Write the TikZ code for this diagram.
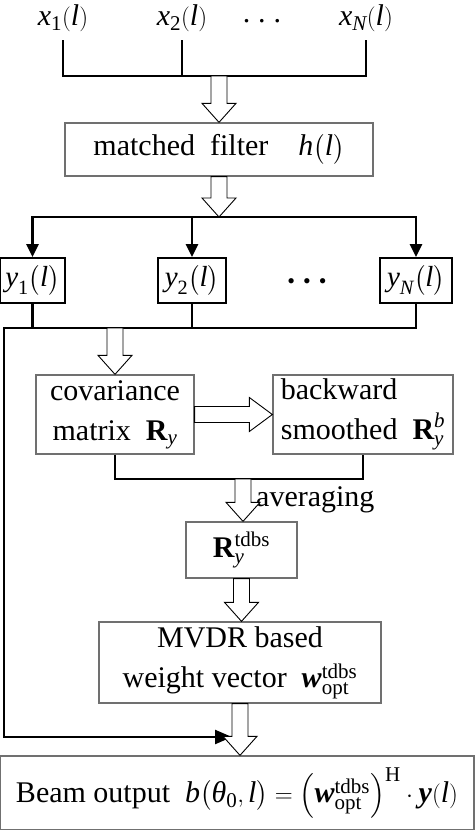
\documentclass[tikz,border=0pt]{standalone}
\usepackage{amsmath}
\usepackage[no-math]{fontspec}
\setmainfont{Liberation Serif}
\usepackage{tikz}
\usetikzlibrary{arrows.meta,positioning,calc}
\definecolor{boxgray}{HTML}{707070}
\newcommand{\mv}[1]{\textit{#1}}
\newcommand{\bv}[1]{\textbf{\textit{#1}}}
\tikzset{
  blockBox/.style={draw=boxgray, line width=1.3pt, inner sep=0pt, align=center, font=\fontsize{30}{40}\selectfont},
  yBox/.style={draw=black, line width=1.8pt, inner sep=0pt, minimum height=45pt, font=\fontsize{29}{36}\selectfont},
  sigLabel/.style={inner sep=0pt, minimum height=44pt, font=\fontsize{30}{36}\selectfont},
  linkLine/.style={line width=2.4pt, draw=black},
  smallTip/.style={-{Triangle[length=13pt,width=12pt]}},
  bigTip/.style={-{Triangle[length=17pt,width=14pt]}},
  fatArrow/.style={draw=black, fill=white, line width=0.9pt},
  fatDown/.style={fatArrow, to path={let \p1=(\tikztostart), \p2=(\tikztotarget) in
    (\x1-8pt,\y1) -- (\x1-8pt,\y2+19pt) -- (\x1-17pt,\y2+19pt) -- (\x1,\y2)
    -- (\x1+17pt,\y2+19pt) -- (\x1+8pt,\y2+19pt) -- (\x1+8pt,\y1) -- cycle}},
  fatRight/.style={fatArrow, to path={let \p1=(\tikztostart), \p2=(\tikztotarget) in
    (\x1,\y1+8pt) -- (\x2-23pt,\y1+8pt) -- (\x2-23pt,\y1+17pt) -- (\x2,\y1)
    -- (\x2-23pt,\y1-17pt) -- (\x2-23pt,\y1-8pt) -- (\x1,\y1-8pt) -- cycle}}
}

\begin{document}
\begin{tikzpicture}[x=1pt,y=-1pt]
  \useasboundingbox (0,0) rectangle (474,830);
  \node[sigLabel] (xone) at (63,18) {$\mv{x}_{\text{1}}(\mv{l})$};
  \node[sigLabel] (xtwo) at (182,18) {$\mv{x}_{\text{2}}(\mv{l})$};
  \node[inner sep=0pt, font=\fontsize{30}{36}\selectfont] (xdots) at (262,21) {.\hspace{8pt}.\hspace{8pt}.};
  \node[sigLabel] (xN) at (366,18) {$\mv{x}_{\mv{N}}(\mv{l})$};
  \coordinate (bus1) at (219,76);
  \node[blockBox, minimum width=308pt, minimum height=53pt] (mf) at (219,149.5) {matched\ \ filter\quad $\mv{h}\bigl(\mv{l}\bigr)$};
  \coordinate (bus2) at (219,217);
  \node[yBox, minimum width=65pt] (yone) at (32.5,280.5) {$\mv{y}_{\text{1}}\bigl(\mv{l}\bigr)$};
  \node[yBox, minimum width=68pt] (ytwo) at (192,280.5) {$\mv{y}_{\text{2}}\bigl(\mv{l}\bigr)$};
  \node[yBox, minimum width=72pt] (yN) at (416,280.5) {$\mv{y}_{\mv{N}}\bigl(\mv{l}\bigr)$};
  \node[font=\fontsize{22}{22}\selectfont] (ydots) at (307,284) {\textbullet\hspace{8pt}\textbullet\hspace{8pt}\textbullet};
  \coordinate (fb) at (4,328);
  \node[blockBox, minimum width=158pt, minimum height=79pt] (cov) at (115,414.5) {covariance\\matrix\ \ $\textbf{R}_{\mv{y}}$};
  \node[blockBox, align=left, minimum width=180pt, minimum height=79pt] (bwd) at (363,414.5) {backward\\smoothed\ \ $\textbf{R}_{\mv{y}}^{\mv{b}}$};
  \coordinate (bus4) at (243,479);
  \node[anchor=west, inner sep=0pt, font=\fontsize{30}{36}\selectfont] (avgtext) at (256,500) {averaging};
  \node[blockBox, minimum width=111pt, minimum height=56pt] (avg) at (241.5,550) {$\textbf{R}_{\mv{y}}^{\text{tdbs}}$};
  \node[blockBox, minimum width=282pt, minimum height=81pt] (mvdr) at (240,662.5) {MVDR based\\weight vector\ \ $\bv{w}_{\text{opt}}^{\text{tdbs}}$};
  \coordinate (join) at (232,737);
  \node[blockBox, minimum width=474pt, minimum height=74pt] (beam) at (237,793) {Beam output\ \ $\mv{b}\bigl(\mv{θ}_{\text{0}},\mv{l}\bigr)=\Bigl(\bv{w}_{\text{opt}}^{\text{tdbs}}\Bigr)^{\text{H}}\cdot\bv{y}(\mv{l})$};

  \draw[linkLine, line width=2pt] (xone.south) |- (bus1) -| (xN.south);
  \draw[linkLine, line width=2pt] (xtwo.south) -- (xtwo.south |- bus1);
  \draw[linkLine, smallTip] (bus2) -| (yone.north);
  \draw[linkLine, smallTip] (bus2) -| (yN.north);
  \draw[linkLine, smallTip] (bus2 -| ytwo.north) -- (ytwo.north);
  \draw[linkLine] (yone.south) -- (yone.south |- fb);
  \draw[linkLine] (ytwo.south) -- (ytwo.south |- fb);
  \draw[linkLine, bigTip] (yN.south) |- (fb) |- (join);
  \draw[linkLine] (cov.south) |- (bus4) -| (bwd.south);

  \draw[fatDown] (bus1) to (mf.north);
  \draw[fatDown] (mf.south) to (bus2);
  \draw[fatDown] (fb -| cov.north) to (cov.north);
  \draw[fatRight] (cov.east) to (bwd.west);
  \draw[fatDown] (bus4) to (avg.north);
  \draw[fatDown] (avg.south) to (mvdr.north);
  \draw[fatDown] (mvdr.south) to (beam.north);
\end{tikzpicture}
\end{document}
